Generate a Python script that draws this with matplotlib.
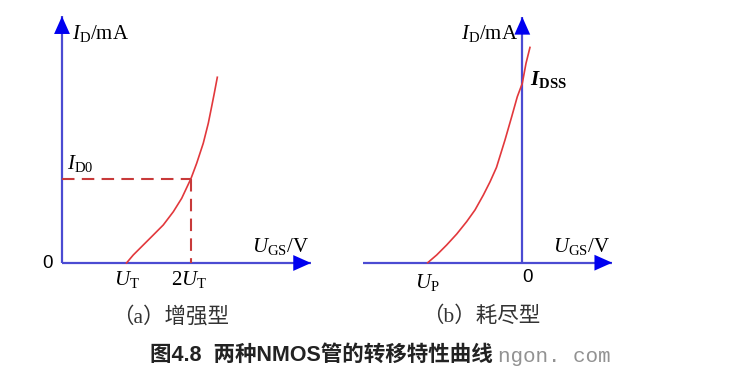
#!/usr/bin/env python3
# -*- coding: utf-8 -*-

import matplotlib
matplotlib.use("Agg")
import matplotlib.pyplot as plt

# ====== DATA ======
# (a) enhancement type: x in units of U_T, y in units of I_D0
enh_ugs = [1.0, 1.105, 1.26, 1.415, 1.57, 1.726, 1.856, 2.0, 2.088, 2.19, 2.268, 2.32, 2.361, 2.408]
enh_id = [0.0, 0.095, 0.213, 0.331, 0.45, 0.607, 0.766, 1.0, 1.18, 1.417, 1.653, 1.85, 2.008, 2.198]
enh_ref_x = 2.0   # 2U_T
enh_ref_y = 1.0   # I_D0

# (b) depletion type: x in units of |U_P|, y in units of I_DSS
dep_ugs = [-1.0, -0.905, -0.799, -0.693, -0.588, -0.5, -0.412, -0.341, -0.273,
           -0.183, -0.112, -0.053, 0.0, 0.039, 0.081]
dep_id = [0.0, 0.043, 0.099, 0.16, 0.229, 0.294, 0.377, 0.451, 0.531,
          0.684, 0.814, 0.925, 1.0, 1.111, 1.20]

CAPTION = "图4.8  两种NMOS管的转移特性曲线"
SUB_A = "（a）增强型"
SUB_B = "（b）耗尽型"
WATERMARK = "ngon. com"

# ====== STYLE ======
W, H = 735, 389
AXIS_COLOR = "#4b4bd2"
HEAD_COLOR = "#0000f0"
CURVE_COLOR = "#e2383c"
DASH_COLOR = "#c83a3a"
SERIF = ["Liberation Serif", "Noto Sans CJK SC"]
FS = 15

plt.rcParams["mathtext.fontset"] = "custom"
plt.rcParams["mathtext.rm"] = "Liberation Serif"
plt.rcParams["mathtext.it"] = "Liberation Serif:italic"
plt.rcParams["mathtext.bf"] = "Liberation Serif:bold"
plt.rcParams["mathtext.bfit"] = "Liberation Serif:italic:bold"


def make_axes(fig, origin, scale, box):
    """origin = pixel pos of (0,0), scale = px per unit (sx, sy), box = pixel box (x0, y0, x1, y1)"""
    x0, y0, x1, y1 = box
    ax = fig.add_axes([x0 / W, 1 - y1 / H, (x1 - x0) / W, (y1 - y0) / H])
    ax.set_xlim((x0 - origin[0]) / scale[0], (x1 - origin[0]) / scale[0])
    ax.set_ylim((origin[1] - y1) / scale[1], (origin[1] - y0) / scale[1])
    ax.axis("off")
    return ax


def draw_axis(ax, start, tip):
    ax.plot([start[0], tip[0]], [start[1], tip[1]], color=AXIS_COLOR, lw=1.6,
            solid_capstyle="butt", zorder=2)
    ax.annotate("", xy=tip, xytext=start,
                arrowprops=dict(arrowstyle="-|>,head_length=0.85,head_width=0.38",
                                color=HEAD_COLOR, lw=0, mutation_scale=15,
                                shrinkA=0, shrinkB=0), zorder=3)


def main():
    fig = plt.figure(figsize=(W / 100, H / 100), dpi=100)

    # ---- (a) ----
    ax = make_axes(fig, (62, 263), (64.5, 84.5), (20, 5, 330, 340))
    draw_axis(ax, (0, 0), (0, 2.92))
    draw_axis(ax, (0, 0), (3.86, 0))
    ax.plot(enh_ugs, enh_id, color=CURVE_COLOR, lw=1.2, zorder=4,
            solid_joinstyle="round")
    ax.plot([0, enh_ref_x], [enh_ref_y, enh_ref_y], color=DASH_COLOR, lw=1.5,
            dashes=(6, 3.5), zorder=4)
    ax.plot([enh_ref_x, enh_ref_x], [enh_ref_y, 0], color=DASH_COLOR, lw=1.5,
            dashes=(6, 3.5), zorder=4)

    ax.text(0.15, 2.72, r"$I_{\mathrm{D}}$/mA", family=SERIF, fontsize=FS, ha="left", va="center")
    ax.text(0.07, 1.18, r"$I_{\mathrm{D0}}$", family=SERIF, fontsize=FS, ha="left", va="center")
    ax.text(-0.22, 0.0, "0", family="Liberation Sans", fontsize=13.5, ha="center", va="center")
    ax.text(1.0, -0.2, r"$U_{\mathrm{T}}$", family=SERIF, fontsize=FS, ha="center", va="center")
    ax.text(1.97, -0.2, r"$2U_{\mathrm{T}}$", family=SERIF, fontsize=FS, ha="center", va="center")
    ax.text(3.38, 0.2, r"$U_{\mathrm{GS}}$/V", family=SERIF, fontsize=FS, ha="center", va="center")
    ax.text(1.69, -0.64, SUB_A, family=SERIF, fontsize=15.5, ha="center", va="center",
            color="#333333")

    # ---- (b) ----
    bx = make_axes(fig, (522.3, 262.7), (94.6, 179.4), (345, 5, 650, 340))
    draw_axis(bx, (0, 0), (0, 1.37))
    draw_axis(bx, (-1.684, 0), (0.95, 0))
    bx.plot(dep_ugs, dep_id, color=CURVE_COLOR, lw=1.2, zorder=4,
            solid_joinstyle="round")

    bx.text(-0.05, 1.28, r"$I_{\mathrm{D}}$/mA", family=SERIF, fontsize=FS, ha="right", va="center")
    bx.text(0.08, 1.02, r"$\mathbfit{I}_{\mathbf{DSS}}$", family=SERIF, fontsize=FS, ha="left", va="center")
    bx.text(0.63, 0.09, r"$U_{\mathrm{GS}}$/V", family=SERIF, fontsize=FS, ha="center", va="center")
    bx.text(-1.0, -0.11, r"$U_{\mathrm{P}}$", family=SERIF, fontsize=FS, ha="center", va="center")
    bx.text(0.06, -0.085, "0", family="Liberation Sans", fontsize=13.5, ha="center", va="center")
    bx.text(-0.43, -0.30, SUB_B, family=SERIF, fontsize=15.5, ha="center", va="center",
            color="#333333")

    # ---- caption + watermark ----
    fig.text(150 / W, 1 - 355 / H, CAPTION, family=["Liberation Sans", "Noto Sans CJK SC"],
             fontsize=15.5, fontweight="bold", ha="left", va="center", color="#222222")
    fig.text(498 / W, 1 - 356 / H, WATERMARK, family="Liberation Mono", fontsize=15,
             ha="left", va="center", color="#777777", alpha=0.8)

    fig.savefig("out.png", dpi=100)
    plt.close(fig)


if __name__ == "__main__":
    main()
